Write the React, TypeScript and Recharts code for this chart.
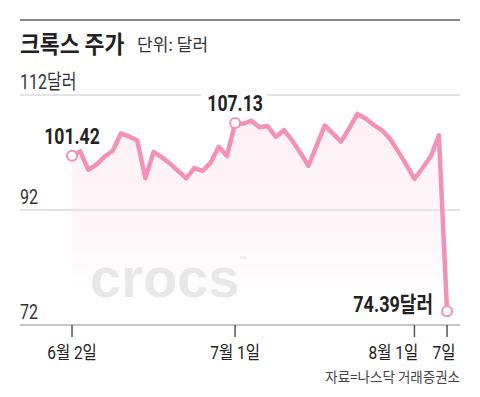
import { ComposedChart, Area, Line, XAxis, YAxis, CartesianGrid } from 'recharts';

// 크록스 종가, 2025-06-02 ~ 08-07 거래일
const prices = [
  101.42, 102.2, 99.0, 99.9, 101.3, 102.3, 105.3, 104.8, 104.1, 97.5,
  102.1, 101.2, 100.1, 98.8, 97.5, 99.3, 98.8, 100.2, 103.0, 101.4,
  107.13, 107.0, 107.5, 106.4, 106.6, 104.7, 105.9, 104.1, 102.0, 99.7,
  103.2, 106.7, 105.3, 103.9, 106.2, 108.7, 107.9, 106.8, 105.9, 104.4,
  102.2, 99.9, 97.4, 99.3, 101.3, 105.0, 74.39,
];
const xTicks = [0, 20, 42, 46];
const xTickLabels = ['6월 2일', '7월 1일', '8월 1일', '7일'];
const xTickShift = [0, 0, -21, -3];
const yTicks = [72, 92, 112];
const yTickLabels = ['72', '92', '112달러'];
const markIdx = [0, 20, 46];
const markText = ['101.42', '107.13', '74.39달러'];

const PINK = '#f391b6';
const KR = '"Noto Sans CJK KR", "Noto Sans", sans-serif';
const NUM = 'Roboto, "Noto Sans CJK KR", sans-serif';

const data = prices.map((p, i) => ({ i, p }));

const renderDot = (props: any) => {
  const { cx, cy, index } = props;
  if (!markIdx.includes(index)) return <g key={`d${index}`} />;
  return <circle key={`d${index}`} cx={cx} cy={cy} r={5} fill="#fff" stroke={PINK} strokeWidth={2} />;
};

const renderLabel = (props: any) => {
  const { x, y, index } = props;
  const k = markIdx.indexOf(index);
  if (k < 0) return null;
  const style = { fontFamily: NUM, fontWeight: 700, fontSize: 22, fill: '#222' };
  if (k === 2) {
    return (
      <g key={`l${index}`} transform={`translate(${x - 14},${y + 1})`}>
        <text transform="scale(0.82,1)" textAnchor="end" style={style}>{markText[k]}</text>
      </g>
    );
  }
  return (
    <g key={`l${index}`}>
      {k === 1 && <rect x={x - 34} y={y - 31} width={66} height={20} fill="#fff" />}
      <g transform={`translate(${x},${y - 12})`}>
        <text transform="scale(0.8,1)" textAnchor="middle" style={style}>{markText[k]}</text>
      </g>
    </g>
  );
};

const renderYTick = (props: any) => {
  const { y, payload } = props;
  const k = yTicks.indexOf(Number(payload.value));
  return (
    <g key={`y${payload.value}`} transform={`translate(20,${y - 6})`}>
      <text transform="scale(0.8,1)" textAnchor="start" style={{ fontFamily: NUM, fontSize: 20, fill: '#333' }}>
        {yTickLabels[k]}
      </text>
    </g>
  );
};

const renderXTick = (props: any) => {
  const { x, y, payload } = props;
  const k = xTicks.indexOf(payload.value);
  return (
    <g key={`x${k}`} transform={`translate(${x + xTickShift[k]},${y + 16})`}>
      <text transform="scale(0.86,1)" textAnchor="middle" style={{ fontFamily: NUM, fontSize: 18, fill: '#222' }}>
        {xTickLabels[k]}
      </text>
    </g>
  );
};

export default function App() {
  return (
    <div style={{ position: 'relative', width: 480, height: 397, background: '#fff', fontFamily: KR }}>
      <style>{'body{margin:0}'}</style>
      <div style={{ position: 'absolute', left: 20, top: 19, width: 440, height: 2, background: '#8a8a8a' }} />
      <div style={{
        position: 'absolute', left: 20, top: 28, lineHeight: '30px', whiteSpace: 'nowrap', color: '#222',
        fontSize: 24, fontWeight: 700, transform: 'scaleX(0.9)', transformOrigin: 'left top',
      }}>
        크록스 주가
      </div>
      <div style={{ position: 'absolute', left: 137, top: 34, lineHeight: '20px', fontSize: 17, color: '#333', whiteSpace: 'nowrap' }}>
        단위: 달러
      </div>
      <div style={{
        position: 'absolute', left: 90, top: 250, fontFamily: '"Liberation Sans", Arial, sans-serif',
        fontWeight: 700, fontSize: 56, lineHeight: '56px', color: '#e8e8e8',
      }}>
        crocs<span style={{ fontSize: 8, verticalAlign: 'top', lineHeight: '20px' }}>™</span>
      </div>
      <div style={{ position: 'absolute', left: 0, top: 0 }}>
        <ComposedChart width={480} height={397} data={data} margin={{ top: 95, right: 20, bottom: 32, left: 0 }}>
          <defs>
            <linearGradient id="fillPink" x1="0" y1="0" x2="0" y2="1">
              <stop offset="0%" stopColor="#fbd9e6" stopOpacity={0.65} />
              <stop offset="65%" stopColor="#fbd9e6" stopOpacity={0.3} />
              <stop offset="85%" stopColor="#fbd9e6" stopOpacity={0} />
            </linearGradient>
          </defs>
          <CartesianGrid vertical={false} stroke="#c8c8c8" />
          <XAxis
            type="number" dataKey="i" domain={[-6.38, 47.59]} ticks={xTicks} interval={0}
            height={40} tickSize={12} tickMargin={6}
            axisLine={{ stroke: '#aaa' }} tickLine={{ stroke: '#555', strokeWidth: 1.5 }}
            tick={renderXTick}
          />
          <YAxis
            domain={[72, 112]} ticks={yTicks} interval={0} width={20}
            axisLine={false} tickLine={false} tick={renderYTick}
          />
          <Area
            type="linear" dataKey="p" stroke="none" fill="url(#fillPink)" isAnimationActive={false}
          />
          <Line
            type="linear" dataKey="p" stroke={PINK} strokeWidth={4.5}
            strokeLinejoin="round" dot={renderDot} activeDot={false} label={renderLabel}
            isAnimationActive={false}
          />
        </ComposedChart>
      </div>
      <div style={{ position: 'absolute', right: 20, top: 368, fontSize: 13.5, lineHeight: '16px', color: '#444', whiteSpace: 'nowrap' }}>
        자료=나스닥 거래증권소
      </div>
    </div>
  );
}
